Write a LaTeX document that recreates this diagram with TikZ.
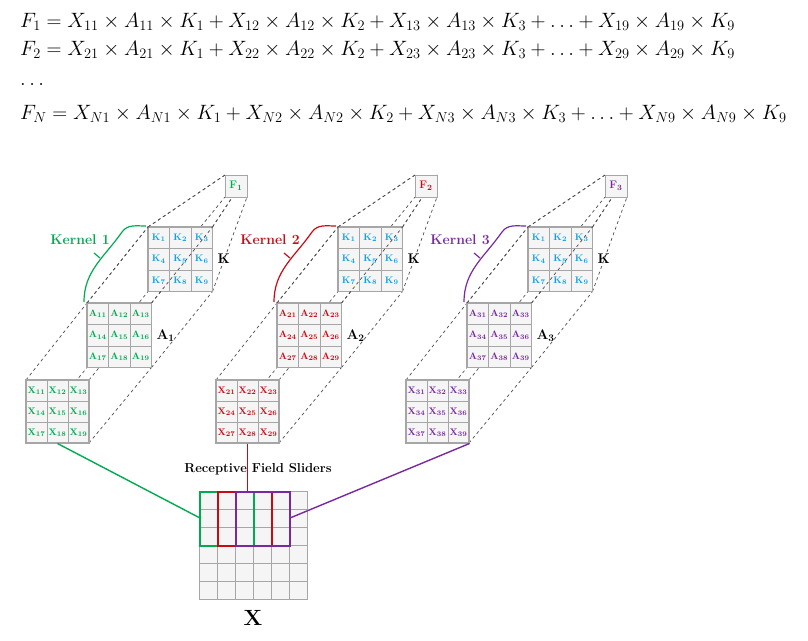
\documentclass[tikz,border=0pt]{standalone}
\usepackage{amsmath}
\begin{document}
\definecolor{cg}{RGB}{0,170,80}
\definecolor{cr}{RGB}{200,10,20}
\definecolor{cp}{RGB}{120,40,160}
\definecolor{cb}{RGB}{20,160,230}
\begin{tikzpicture}[x=1pt,y=-1pt,
  cell/.style={draw=gray!70,line width=1pt,fill=gray!8,inner sep=0pt,font=\fontsize{9.5}{10}\selectfont\bfseries},
  dsh/.style={dashed,gray!60!black,line width=0.7pt},
  big/.style={draw=gray!70,line width=1pt,fill=gray!8,minimum size=18pt,inner sep=0pt},
  lab/.style={font=\fontsize{14}{15}\selectfont\bfseries}]
\useasboundingbox (0,0) rectangle (808,640);
\begin{scope}[every node/.style={anchor=west,inner sep=0pt,font=\fontsize{21}{24}\selectfont}]
\node (e1) at (20,22) {$F_1=X_{11}\times A_{11}\times K_1+X_{12}\times A_{12}\times K_2+X_{13}\times A_{13}\times K_3+\ldots+X_{19}\times A_{19}\times K_9$};
\node (e2) at (20,50) {$F_2=X_{21}\times A_{21}\times K_1+X_{22}\times A_{22}\times K_2+X_{23}\times A_{23}\times K_3+\ldots+X_{29}\times A_{29}\times K_9$};
\node (e3) at (20,84) {$\ldots$};
\node (e4) at (20,114) {$F_N=X_{N1}\times A_{N1}\times K_1+X_{N2}\times A_{N2}\times K_2+X_{N3}\times A_{N3}\times K_3+\ldots+X_{N9}\times A_{N9}\times K_9$};
\end{scope}
\newcommand\mygrid[7]{% name, x, y, size, color, letter, prefix
  \coordinate (#1tl) at (#2,#3);
  \coordinate (#1br) at ({#2+3*#4},{#3+3*#4});
  \foreach \j in {0,1,2}{\foreach \i in {0,1,2}{
    \pgfmathtruncatemacro\n{3*\j+\i+1}
    \node[cell,minimum size=#4pt,text=#5] (#1-\n) at ({#2+(\i+0.5)*#4},{#3+(\j+0.5)*#4}) {#6$_{\mathbf{#7\n}}$};
  }}
  \draw[gray!70,line width=1.2pt] (#1tl) rectangle (#1br);
}
\foreach \g/\cc/\k in {0/cg/1,190/cr/2,380/cp/3}{
  \begin{scope}[xshift=\g pt]
  \coordinate (Ftl) at (225,175); \coordinate (Ftr) at (247,175);
  \coordinate (Fbl) at (225,197); \coordinate (Fbr) at (247,197);
  \coordinate (Xtl) at (26,380); \coordinate (Xtr) at (89,380);
  \coordinate (Xbl) at (26,443); \coordinate (Xbr) at (89,443);
  \coordinate (Atl) at (87,303); \coordinate (Atr) at (151.5,303);
  \coordinate (Abl) at (87,367.5); \coordinate (Abr) at (151.5,367.5);
  \coordinate (Ktl) at (148,227); \coordinate (Ktr) at (212.5,227);
  \coordinate (Kbl) at (148,291.5); \coordinate (Kbr) at (212.5,291.5);
  \foreach \p in {tl,tr,bl,br}{
    \draw[dsh] (X\p) -- (A\p); \draw[dsh] (A\p) -- (K\p); \draw[dsh] (K\p) -- (F\p);}
  \mygrid{X\k}{26}{380}{21}{\cc}{X}{\k}
  \mygrid{A\k}{87}{303}{21.5}{\cc}{A}{\k}
  \mygrid{K\k}{148}{227}{21.5}{cb}{K}{}
  \draw[dsh] (Atl) -- (Ktl); \draw[dsh] (Atr) -- (Ktr);
  \draw[dsh] (Ktl) -- (Ftl); \draw[dsh] (Ktr) -- (Ftr);
  \node[cell,minimum size=22pt,text=\cc,font=\fontsize{11}{12}\selectfont\bfseries] (F\k) at (236,186) {F$_{\mathbf{\k}}$};
  \node[lab,anchor=west] (Kl\k) at (214,259) {K};
  \node[lab,anchor=west] (Al\k) at (153,336) {A$_{\mathbf{\k}}$};
  \draw[\cc,line width=1.2pt] (84,302) to[out=90,in=235] (122,232) to[out=55,in=180] (146,226);
  \draw[\cc,line width=1.2pt] (100,258) -- (94,253);
  \node[lab,text=\cc] (Kn\k) at (80,240) {Kernel \k};
  \end{scope}
}
\foreach \r in {0,...,5}{\foreach \q in {0,...,5}{
  \node[big] (G\r\q) at ({208+18*\q},{500+18*\r}) {};}}
\draw[cg,line width=1.6pt] (200,492) rectangle (254,546);
\draw[cr,line width=1.6pt] (218,492) rectangle (272,546);
\draw[cp,line width=1.6pt] (236,492) rectangle (290,546);
\node[font=\fontsize{13}{14}\selectfont\bfseries] (rfs) at (258,469) {Receptive Field Sliders};
\node[font=\fontsize{22}{24}\selectfont\bfseries] (Xl) at (253,618) {X};
\draw[cg,line width=1.4pt] (X1-8.south) -- (200,518);
\draw[cr,line width=1.4pt] (X2-8.south) -- (X2-8.south |- G02.north);
\draw[cp,line width=1.4pt] (X3-9.south east) -- (290,518);
\end{tikzpicture}
\end{document}
